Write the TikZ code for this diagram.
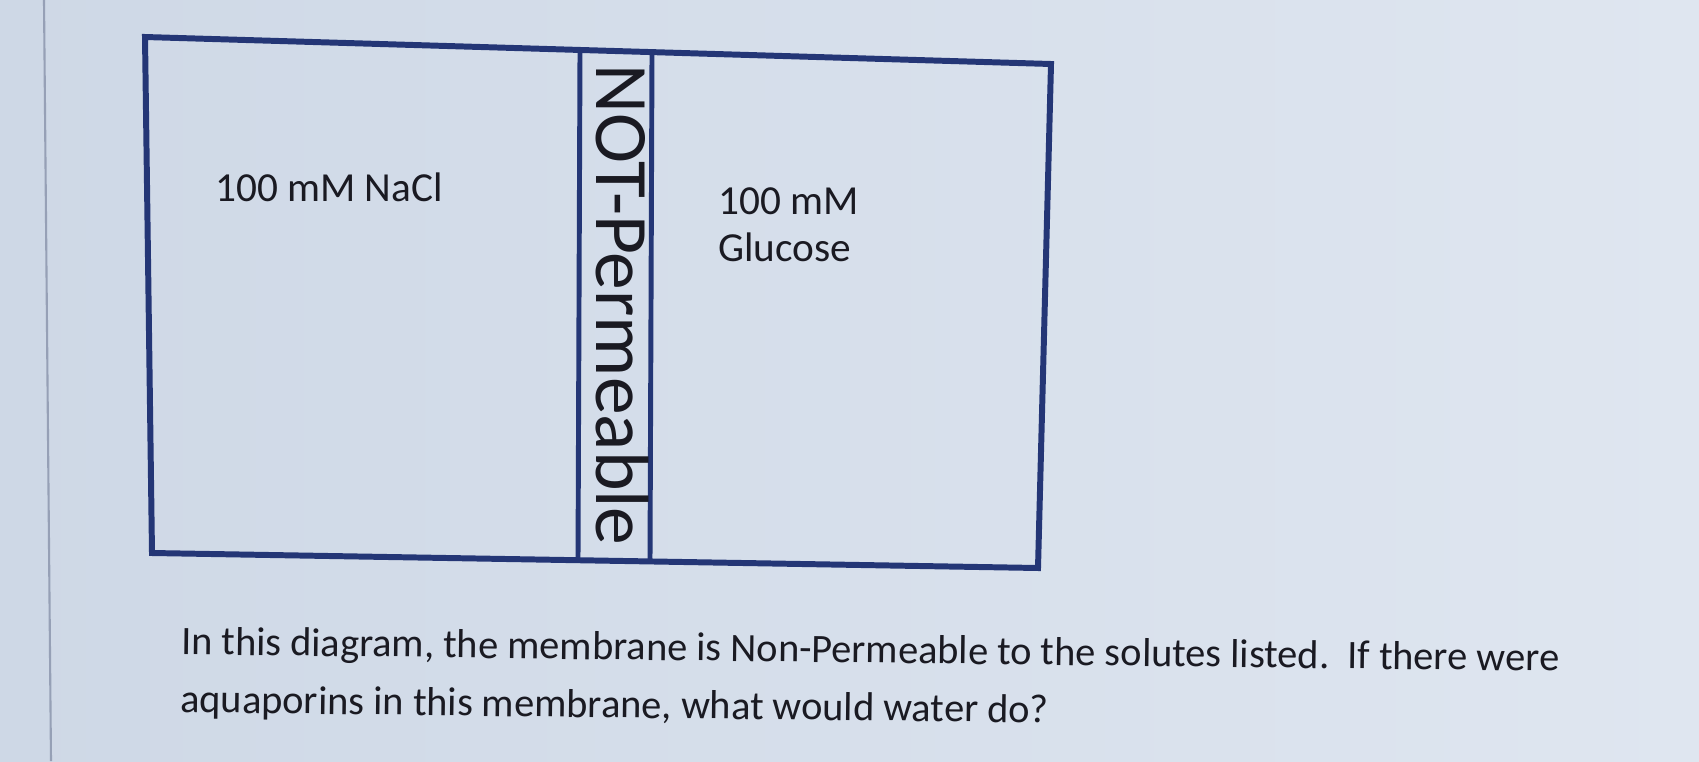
\documentclass[tikz,border=0pt]{standalone}
\usepackage{fontspec}
\setmainfont{Carlito}
\usetikzlibrary{positioning}
\definecolor{screen}{RGB}{206,216,230}
\definecolor{screenlight}{RGB}{223,230,240}
\definecolor{boxblue}{RGB}{36,54,118}
\definecolor{ink}{RGB}{26,26,34}
\definecolor{bezel}{RGB}{150,160,182}

\begin{document}
\begin{tikzpicture}[x=0.02cm,y=-0.02cm,
    label/.style={text=ink,inner sep=0pt,font=\fontsize{23.5}{27}\selectfont},
    wall/.style={draw=boxblue,line width=3.4pt,line join=miter}]
    % screen
    \shade[left color=screen,right color=screenlight] (0,0) rectangle (1699,761);
    \useasboundingbox (0,0) rectangle (1699,761);
    \draw[bezel,line width=1.2pt] (44,0) -- (51,761);
    % corners of the box
    \coordinate (tl) at (145,37);
    \coordinate (tr) at (1051,64);
    \coordinate (br) at (1038,568);
    \coordinate (bl) at (152,553);
    % membrane lines
    \coordinate (mlt) at (580,50);
    \coordinate (mlb) at (578,560);
    \coordinate (mrt) at (652,52);
    \coordinate (mrb) at (650,561);
    \draw[wall] (tl) -- (tr) -- (br) -- (bl) -- cycle;
    \draw[wall,line width=2.8pt] (mlt) -- (mlb) (mrt) -- (mrb);
    % labels
    \node[label] (nacl) at (329,187) {100 mM NaCl};
    \node[label,align=left,anchor=north west] (glucose) at (718,187) {100 mM\\Glucose};
    \node[label,font=\fontsize{43}{50}\selectfont,rotate=-90] (membrane) at (622,305) {NOT-Permeable};
    % question
    \node[label,font=\fontsize{23}{27}\selectfont,align=left,anchor=north west,rotate=-0.7]
      (question) at (181,626) {In this diagram, the membrane is Non-Permeable to the solutes listed.\ \ If there were\\[6pt]aquaporins in this membrane, what would water do?};
\end{tikzpicture}
\end{document}
